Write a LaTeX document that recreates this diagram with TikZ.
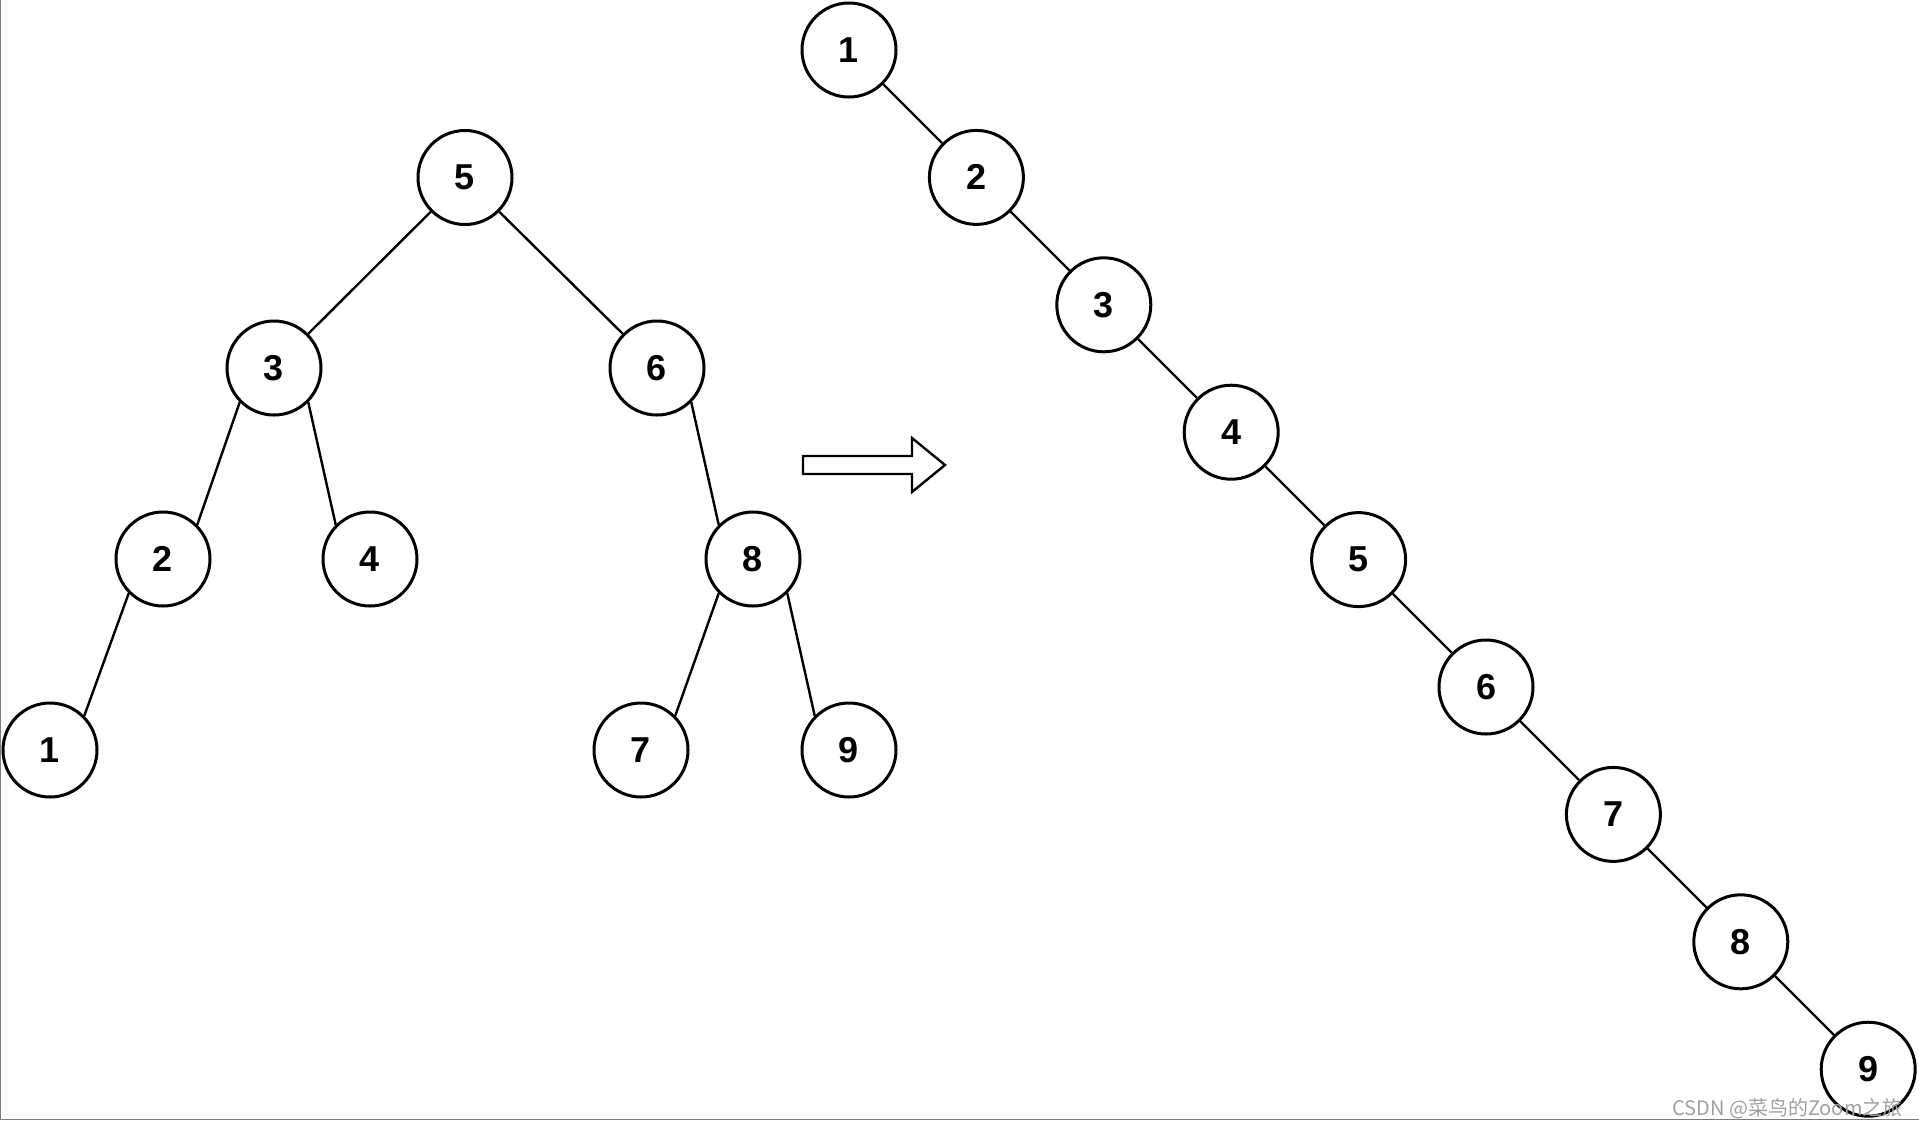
\documentclass[tikz,border=0pt]{standalone}
\usepackage{fontspec}
\setmainfont{Liberation Sans}
\newfontfamily\cjk{Noto Sans CJK SC}
\usetikzlibrary{calc}
\definecolor{frame@gray}{RGB}{125,125,125}
\definecolor{mark@gray}{RGB}{160,160,160}

\begin{document}
\begin{tikzpicture}[x=0.5pt, y=-0.5pt, font=\bfseries\fontsize{18}{18}\selectfont]
  \tikzstyle{vertex}=[draw=black,line width=1.5pt, circle, fill=white,
                                minimum size=47pt,inner sep=0pt]
  \tikzstyle{tree_edge} = [draw, black, line width=1.2pt]
  \tikzstyle{block_arrow} = [draw, black, line width=1.2pt, line join=miter, fill=white]

  \useasboundingbox (0,0) rectangle (1919,1121);

  % constants
  \def \StepX {127.4}
  \def \StepY {127.4}

    % left tree
    \coordinate(A) at (465, 177.5);
    \coordinate(B) at (274, 368);
    \coordinate(C) at (657, 368);
    \coordinate(D) at (163, 559);
    \coordinate(E) at (370, 559);
    \coordinate(F) at (753, 559);
    \coordinate(G) at (50, 750);
    \coordinate(H) at (641, 750);
    \coordinate(I) at (849, 750);

    % Draw the vertices
    \foreach \pos/\name/\val in
        {
          {(A)/l5/5},
          {(B)/l3/3},
          {(C)/l6/6},
          {(D)/l2/2},
          {(E)/l4/4},
          {(F)/l8/8},
          {(G)/l1/1},
          {(H)/l7/7},
          {(I)/l9/9}%
        }
        \node[vertex] (\name) at \pos {\val};

    % right chain, one step down and right per node
    \foreach \i in {1,...,9}
        \node[vertex] (r\i) at ({849+\StepX*(\i-1)}, {50+\StepY*(\i-1)}) {\i};

    % Connect vertices with edges (parent corner to child corner)
    \foreach \source/\sa/\dest/\da in
      {
        l5/south west/l3/north east,
        l5/south east/l6/north west,
        l3/south west/l2/north east,
        l3/south east/l4/north west,
        l2/south west/l1/north east,
        l6/south east/l8/north west,
        l8/south west/l7/north east,
        l8/south east/l9/north west%
      }
      \path[tree_edge] (\source.\sa) -- (\dest.\da);

    \foreach \source/ \dest in
      {
        r1/r2, r2/r3, r3/r4, r4/r5,
        r5/r6, r6/r7, r7/r8, r8/r9%
      }
      \path[tree_edge] (\source.south east) -- (\dest.north west);

    % hollow arrow between the two trees
    \draw[block_arrow] (803,456) -- (912,456) -- (912,438) -- (945,465)
      -- (912,492) -- (912,474) -- (803,474) -- cycle;

    % screenshot frame and watermark
    \draw[frame@gray, line width=0.6pt] (0.6,0) -- (0.6,1119.6) -- (1919,1119.6);
    \node[text=mark@gray, font=\cjk\fontsize{10}{10}\selectfont, anchor=base east,
          inner sep=0pt] (mark) at (1903,1115) {CSDN @菜鸟的Zoom之旅};

\end{tikzpicture}
\end{document}
